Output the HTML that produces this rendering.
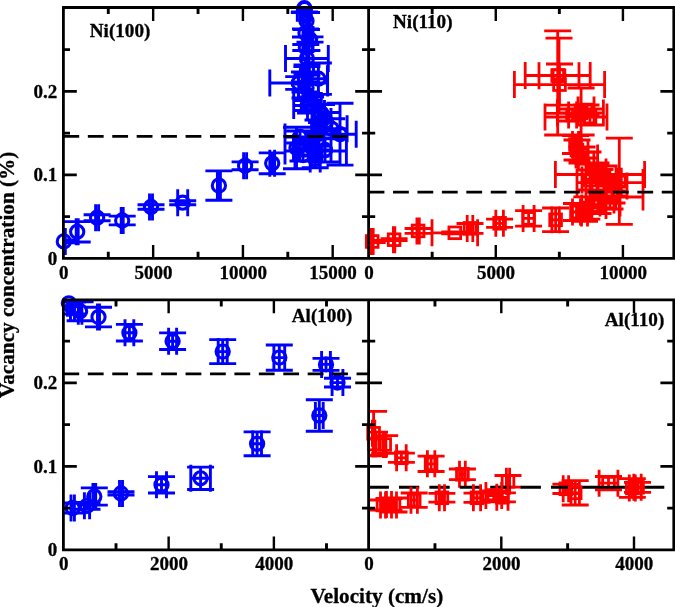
<!DOCTYPE html>
<html><head><meta charset="utf-8"><title>Vacancy concentration vs velocity</title>
<style>html,body{margin:0;padding:0;background:#fff}body{width:675px;height:607px;overflow:hidden}</style></head>
<body>
<svg width="675" height="607" viewBox="0 0 675 607" style="display:block">
<rect x="0" y="0" width="675" height="607" fill="#fff"/>
<defs>
<clipPath id="c1"><rect x="63.4" y="7.5" width="305.20" height="250.90"/></clipPath>
<clipPath id="c2"><rect x="368.6" y="7.5" width="305.20" height="250.90"/></clipPath>
<clipPath id="c3"><rect x="63.4" y="299.8" width="305.20" height="250.10"/></clipPath>
<clipPath id="c4"><rect x="368.6" y="299.8" width="305.20" height="250.10"/></clipPath>
</defs>
<g fill="none" stroke="#0000ff" stroke-width="2.9">
<path clip-path="url(#c1)" d="M62.3 241.4H65.3M62.3 227.9V254.9M65.3 227.9V254.9M63.8 239.9V242.9M50.3 239.9H77.3M50.3 242.9H77.3M76.2 231.8H78.2M76.2 218.3V245.3M78.2 218.3V245.3M77.2 221.6V242.0M63.7 221.6H90.7M63.7 242.0H90.7M95.6 217.7H98.6M95.6 204.2V231.2M98.6 204.2V231.2M97.1 214.7V220.7M83.6 214.7H110.6M83.6 220.7H110.6M121.2 220.5H123.2M121.2 207.0V234.0M123.2 207.0V234.0M122.2 216.1V224.9M108.7 216.1H135.7M108.7 224.9H135.7M149.5 207.0H152.5M149.5 193.5V220.5M152.5 193.5V220.5M151.0 204.8V209.2M137.5 204.8H164.5M137.5 209.2H164.5M177.7 202.7H187.7M177.7 189.2V216.2M187.7 189.2V216.2M182.7 200.7V204.7M169.2 200.7H196.2M169.2 204.7H196.2M217.4 185.6H220.4M217.4 172.1V199.1M220.4 172.1V199.1M218.9 170.9V200.3M205.4 170.9H232.4M205.4 200.3H232.4M243.6 165.8H246.6M243.6 152.3V179.3M246.6 152.3V179.3M245.1 161.9V169.7M231.6 161.9H258.6M231.6 169.7H258.6M269.8 163.3H274.6M269.8 149.8V176.8M274.6 149.8V176.8M272.2 152.9V173.7M258.7 152.9H285.7M258.7 173.7H285.7M297.3 8.2H311.3M297.3 -5.3V21.7M311.3 -5.3V21.7M304.3 3.8V12.6M290.8 3.8H317.8M290.8 12.6H317.8M300.3 9.0H308.7M300.3 -4.5V22.5M308.7 -4.5V22.5M304.5 6.0V12.0M291.0 6.0H318.0M291.0 12.0H318.0M303.5 21.0H309.5M303.5 7.5V34.5M309.5 7.5V34.5M306.5 12.5V29.5M293.0 12.5H320.0M293.0 29.5H320.0M303.0 33.0H308.0M303.0 19.5V46.5M308.0 19.5V46.5M305.5 29.0V37.0M292.0 29.0H319.0M292.0 37.0H319.0M307.0 39.5H313.0M307.0 26.0V53.0M313.0 26.0V53.0M310.0 36.9V42.1M296.5 36.9H323.5M296.5 42.1H323.5M302.8 47.5H308.8M302.8 34.0V61.0M308.8 34.0V61.0M305.8 44.5V50.5M292.3 44.5H319.3M292.3 50.5H319.3M285.5 58.5H328.3M285.5 45.0V72.0M328.3 45.0V72.0M306.9 50.5V66.5M293.4 50.5H320.4M293.4 66.5H320.4M269.8 83.0H327.6M269.8 69.5V96.5M327.6 69.5V96.5M298.7 76.6V89.4M285.2 76.6H312.2M285.2 89.4H312.2M309.4 78.7H327.4M309.4 65.2V92.2M327.4 65.2V92.2M318.4 63.0V94.4M304.9 63.0H331.9M304.9 94.4H331.9M305.0 70.0H309.0M305.0 56.5V83.5M309.0 56.5V83.5M307.0 65.0V75.0M293.5 65.0H320.5M293.5 75.0H320.5M302.3 77.0H306.7M302.3 63.5V90.5M306.7 63.5V90.5M304.5 72.0V82.0M291.0 72.0H318.0M291.0 82.0H318.0M303.9 88.0H309.1M303.9 74.5V101.5M309.1 74.5V101.5M306.5 84.0V92.0M293.0 84.0H320.0M293.0 92.0H320.0M303.0 95.0H307.0M303.0 81.5V108.5M307.0 81.5V108.5M305.0 92.0V98.0M291.5 92.0H318.5M291.5 98.0H318.5M307.5 105.0H313.5M307.5 91.5V118.5M313.5 91.5V118.5M310.5 97.0V113.0M297.0 97.0H324.0M297.0 113.0H324.0M293.7 105.5H321.3M293.7 92.0V119.0M321.3 92.0V119.0M307.5 100.5V110.5M294.0 100.5H321.0M294.0 110.5H321.0M318.5 113.5H324.5M318.5 100.0V127.0M324.5 100.0V127.0M321.5 104.5V122.5M308.0 104.5H335.0M308.0 122.5H335.0M321.0 121.5H331.0M321.0 108.0V135.0M331.0 108.0V135.0M326.0 112.5V130.5M312.5 112.5H339.5M312.5 130.5H339.5M312.0 127.0H324.0M312.0 113.5V140.5M324.0 113.5V140.5M318.0 120.0V134.0M304.5 120.0H331.5M304.5 134.0H331.5M323.8 134.2H356.2M323.8 120.7V147.7M356.2 120.7V147.7M340.0 103.3V165.1M326.5 103.3H353.5M326.5 165.1H353.5M316.3 128.8H347.1M316.3 115.3V142.3M347.1 115.3V142.3M331.7 118.8V138.8M318.2 118.8H345.2M318.2 138.8H345.2M293.5 148.0H299.5M293.5 134.5V161.5M299.5 134.5V161.5M296.5 127.2V168.8M283.0 127.2H310.0M283.0 168.8H310.0M285.0 137.0H315.0M285.0 123.5V150.5M315.0 123.5V150.5M300.0 131.0V143.0M286.5 131.0H313.5M286.5 143.0H313.5M285.0 151.0H346.4M285.0 137.5V164.5M346.4 137.5V164.5M315.7 146.0V156.0M302.2 146.0H329.2M302.2 156.0H329.2M308.5 148.0H316.5M308.5 134.5V161.5M316.5 134.5V161.5M312.5 140.0V156.0M299.0 140.0H326.0M299.0 156.0H326.0M310.2 159.0H320.2M310.2 145.5V172.5M320.2 145.5V172.5M315.2 150.2V167.8M301.7 150.2H328.7M301.7 167.8H328.7M295.0 155.0H311.0M295.0 141.5V168.5M311.0 141.5V168.5M303.0 149.0V161.0M289.5 149.0H316.5M289.5 161.0H316.5M319.0 150.0H331.0M319.0 136.5V163.5M331.0 136.5V163.5M325.0 138.0V162.0M311.5 138.0H338.5M311.5 162.0H338.5"/>
<g stroke-width="3.1"><circle cx="63.8" cy="241.4" r="6.6"/><circle cx="77.2" cy="231.8" r="6.6"/><circle cx="97.1" cy="217.7" r="6.6"/><circle cx="122.2" cy="220.5" r="6.6"/><circle cx="151.0" cy="207.0" r="6.6"/><circle cx="182.7" cy="202.7" r="6.6"/><circle cx="218.9" cy="185.6" r="6.6"/><circle cx="245.1" cy="165.8" r="6.6"/><circle cx="272.2" cy="163.3" r="6.6"/><circle cx="304.3" cy="8.2" r="6.6"/><circle cx="304.5" cy="9.0" r="6.6"/><circle cx="306.5" cy="21.0" r="6.6"/><circle cx="305.5" cy="33.0" r="6.6"/><circle cx="310.0" cy="39.5" r="6.6"/><circle cx="305.8" cy="47.5" r="6.6"/><circle cx="306.9" cy="58.5" r="6.6"/><circle cx="298.7" cy="83.0" r="6.6"/><circle cx="318.4" cy="78.7" r="6.6"/><circle cx="307.0" cy="70.0" r="6.6"/><circle cx="304.5" cy="77.0" r="6.6"/><circle cx="306.5" cy="88.0" r="6.6"/><circle cx="305.0" cy="95.0" r="6.6"/><circle cx="310.5" cy="105.0" r="6.6"/><circle cx="307.5" cy="105.5" r="6.6"/><circle cx="321.5" cy="113.5" r="6.6"/><circle cx="326.0" cy="121.5" r="6.6"/><circle cx="318.0" cy="127.0" r="6.6"/><circle cx="340.0" cy="134.2" r="6.6"/><circle cx="331.7" cy="128.8" r="6.6"/><circle cx="296.5" cy="148.0" r="6.6"/><circle cx="300.0" cy="137.0" r="6.6"/><circle cx="315.7" cy="151.0" r="6.6"/><circle cx="312.5" cy="148.0" r="6.6"/><circle cx="315.2" cy="159.0" r="6.6"/><circle cx="303.0" cy="155.0" r="6.6"/><circle cx="325.0" cy="150.0" r="6.6"/></g>
</g>
<g fill="none" stroke="#ff0000" stroke-width="2.8">
<path clip-path="url(#c2)" d="M371.2 241.5H373.2M371.2 228.0V255.0M373.2 228.0V255.0M372.2 240.5V242.5M358.7 240.5H385.7M358.7 242.5H385.7M393.4 239.7H394.8M393.4 226.2V253.2M394.8 226.2V253.2M394.1 238.7V240.7M380.6 238.7H407.6M380.6 240.7H407.6M416.9 230.9H419.3M416.9 217.4V244.4M419.3 217.4V244.4M418.1 228.5V233.3M404.6 228.5H431.6M404.6 233.3H431.6M432.0 232.8H477.6M432.0 219.3V246.3M477.6 219.3V246.3M454.8 231.8V233.9M441.3 231.8H468.3M441.3 233.9H468.3M467.2 228.4H472.8M467.2 214.9V241.9M472.8 214.9V241.9M470.0 223.5V233.3M456.5 223.5H483.5M456.5 233.3H483.5M495.8 223.3H503.4M495.8 209.8V236.8M503.4 209.8V236.8M499.6 219.2V227.4M486.1 219.2H513.1M486.1 227.4H513.1M523.1 218.4H534.1M523.1 204.9V231.9M534.1 204.9V231.9M528.6 210.7V226.1M515.1 210.7H542.1M515.1 226.1H542.1M551.9 219.8H559.3M551.9 206.3V233.3M559.3 206.3V233.3M555.6 208.0V231.6M542.1 208.0H569.1M542.1 231.6H569.1M525.2 75.5H590.2M525.2 62.0V89.0M590.2 62.0V89.0M557.7 30.9V135.0M544.2 30.9H571.2M544.2 135.0H571.2M539.0 75.7H579.0M539.0 62.2V89.2M579.0 62.2V89.2M559.0 38.1V113.3M545.5 38.1H572.5M545.5 113.3H572.5M514.4 84.6H604.6M514.4 71.1V98.1M604.6 71.1V98.1M559.5 64.0V105.2M546.0 64.0H573.0M546.0 105.2H573.0M557.4 113.0H603.4M557.4 99.5V126.5M603.4 99.5V126.5M581.1 88.0V135.0M567.6 88.0H594.6M567.6 135.0H594.6M545.0 117.0H607.0M545.0 103.5V130.5M607.0 103.5V130.5M590.0 109.0V125.0M576.5 109.0H603.5M576.5 125.0H603.5M578.0 110.0H594.0M578.0 96.5V123.5M594.0 96.5V123.5M586.0 105.0V115.0M572.5 105.0H599.5M572.5 115.0H599.5M568.6 115.0H576.6M568.6 101.5V128.5M576.6 101.5V128.5M572.6 109.0V121.0M559.1 109.0H586.1M559.1 121.0H586.1M572.5 144.5H578.5M572.5 131.0V158.0M578.5 131.0V158.0M575.5 135.5V153.5M562.0 135.5H589.0M562.0 153.5H589.0M573.0 150.0H581.0M573.0 136.5V163.5M581.0 136.5V163.5M577.0 140.0V160.0M563.5 140.0H590.5M563.5 160.0H590.5M576.0 155.0H588.0M576.0 141.5V168.5M588.0 141.5V168.5M582.0 147.0V163.0M568.5 147.0H595.5M568.5 163.0H595.5M578.4 158.0H597.6M578.4 144.5V171.5M597.6 144.5V171.5M588.0 152.0V164.0M574.5 152.0H601.5M574.5 164.0H601.5M617.3 181.2H621.3M617.3 167.7V194.7M621.3 167.7V194.7M619.3 138.1V224.3M605.8 138.1H632.8M605.8 224.3H632.8M555.4 174.5H644.6M555.4 161.0V188.0M644.6 161.0V188.0M600.0 169.5V179.5M586.5 169.5H613.5M586.5 179.5H613.5M577.0 182.6H643.0M577.0 169.1V196.1M643.0 169.1V196.1M610.0 174.6V190.6M596.5 174.6H623.5M596.5 190.6H623.5M592.0 197.0H643.0M592.0 183.5V210.5M643.0 183.5V210.5M612.0 191.0V203.0M598.5 191.0H625.5M598.5 203.0H625.5M586.0 172.0H606.0M586.0 158.5V185.5M606.0 158.5V185.5M596.0 163.0V181.0M582.5 163.0H609.5M582.5 181.0H609.5M582.0 180.0H598.0M582.0 166.5V193.5M598.0 166.5V193.5M590.0 170.0V190.0M576.5 170.0H603.5M576.5 190.0H603.5M592.0 178.0H616.0M592.0 164.5V191.5M616.0 164.5V191.5M604.0 166.0V190.0M590.5 166.0H617.5M590.5 190.0H617.5M597.0 186.0H627.0M597.0 172.5V199.5M627.0 172.5V199.5M612.0 176.0V196.0M598.5 176.0H625.5M598.5 196.0H625.5M586.0 200.0H614.0M586.0 186.5V213.5M614.0 186.5V213.5M600.0 192.0V208.0M586.5 192.0H613.5M586.5 208.0H613.5M572.5 212.0H580.5M572.5 198.5V225.5M580.5 198.5V225.5M576.5 203.5V220.5M563.0 203.5H590.0M563.0 220.5H590.0M581.8 208.0H591.8M581.8 194.5V221.5M591.8 194.5V221.5M586.8 196.9V219.1M573.3 196.9H600.3M573.3 219.1H600.3M581.5 213.0H587.5M581.5 199.5V226.5M587.5 199.5V226.5M584.5 204.7V221.3M571.0 204.7H598.0M571.0 221.3H598.0M590.0 205.5H606.0M590.0 192.0V219.0M606.0 192.0V219.0M598.0 197.5V213.5M584.5 197.5H611.5M584.5 213.5H611.5M600.0 203.0H620.0M600.0 189.5V216.5M620.0 189.5V216.5M610.0 197.0V209.0M596.5 197.0H623.5M596.5 209.0H623.5"/>
<g stroke-width="2.8"><rect x="366.35" y="235.65" width="11.70" height="11.70"/><rect x="388.25" y="233.85" width="11.70" height="11.70"/><rect x="412.25" y="225.05" width="11.70" height="11.70"/><rect x="448.95" y="226.95" width="11.70" height="11.70"/><rect x="464.15" y="222.55" width="11.70" height="11.70"/><rect x="493.75" y="217.45" width="11.70" height="11.70"/><rect x="522.75" y="212.55" width="11.70" height="11.70"/><rect x="549.75" y="213.95" width="11.70" height="11.70"/><rect x="551.85" y="69.65" width="11.70" height="11.70"/><rect x="553.15" y="69.85" width="11.70" height="11.70"/><rect x="553.65" y="78.75" width="11.70" height="11.70"/><rect x="575.25" y="107.15" width="11.70" height="11.70"/><rect x="584.15" y="111.15" width="11.70" height="11.70"/><rect x="580.15" y="104.15" width="11.70" height="11.70"/><rect x="566.75" y="109.15" width="11.70" height="11.70"/><rect x="569.65" y="138.65" width="11.70" height="11.70"/><rect x="571.15" y="144.15" width="11.70" height="11.70"/><rect x="576.15" y="149.15" width="11.70" height="11.70"/><rect x="582.15" y="152.15" width="11.70" height="11.70"/><rect x="613.45" y="175.35" width="11.70" height="11.70"/><rect x="594.15" y="168.65" width="11.70" height="11.70"/><rect x="604.15" y="176.75" width="11.70" height="11.70"/><rect x="606.15" y="191.15" width="11.70" height="11.70"/><rect x="590.15" y="166.15" width="11.70" height="11.70"/><rect x="584.15" y="174.15" width="11.70" height="11.70"/><rect x="598.15" y="172.15" width="11.70" height="11.70"/><rect x="606.15" y="180.15" width="11.70" height="11.70"/><rect x="594.15" y="194.15" width="11.70" height="11.70"/><rect x="570.65" y="206.15" width="11.70" height="11.70"/><rect x="580.95" y="202.15" width="11.70" height="11.70"/><rect x="578.65" y="207.15" width="11.70" height="11.70"/><rect x="592.15" y="199.65" width="11.70" height="11.70"/><rect x="604.15" y="197.15" width="11.70" height="11.70"/></g>
</g>
<g fill="none" stroke="#0000ff" stroke-width="2.9">
<path clip-path="url(#c3)" d="M67.4 303.3H70.4M67.4 289.8V316.8M70.4 289.8V316.8M68.9 300.3V306.3M55.4 300.3H82.4M55.4 306.3H82.4M70.5 308.0H74.5M70.5 294.5V321.5M74.5 294.5V321.5M72.5 302.0V314.0M59.0 302.0H86.0M59.0 314.0H86.0M78.3 311.3H81.9M78.3 297.8V324.8M81.9 297.8V324.8M80.1 301.8V320.8M66.6 301.8H93.6M66.6 320.8H93.6M97.5 317.1H99.5M97.5 303.6V330.6M99.5 303.6V330.6M98.5 307.3V326.9M85.0 307.3H112.0M85.0 326.9H112.0M125.0 332.7H133.8M125.0 319.2V346.2M133.8 319.2V346.2M129.4 324.4V341.0M115.9 324.4H142.9M115.9 341.0H142.9M168.6 341.2H176.6M168.6 327.7V354.7M176.6 327.7V354.7M172.6 332.9V349.5M159.1 332.9H186.1M159.1 349.5H186.1M218.2 351.6H227.2M218.2 338.1V365.1M227.2 338.1V365.1M222.7 339.6V363.6M209.2 339.6H236.2M209.2 363.6H236.2M273.9 357.6H284.7M273.9 344.1V371.1M284.7 344.1V371.1M279.3 345.0V370.2M265.8 345.0H292.8M265.8 370.2H292.8M321.6 364.4H330.4M321.6 350.9V377.9M330.4 350.9V377.9M326.0 358.4V370.4M312.5 358.4H339.5M312.5 370.4H339.5M332.1 382.6H342.9M332.1 369.1V396.1M342.9 369.1V396.1M337.5 378.2V387.0M324.0 378.2H351.0M324.0 387.0H351.0M71.0 508.0H74.4M71.0 494.5V521.5M74.4 494.5V521.5M72.7 503.0V513.0M59.2 503.0H86.2M59.2 513.0H86.2M84.4 505.8H89.6M84.4 492.3V519.3M89.6 492.3V519.3M87.0 502.4V509.2M73.5 502.4H100.5M73.5 509.2H100.5M92.9 496.5H95.7M92.9 483.0V510.0M95.7 483.0V510.0M94.3 487.9V505.1M80.8 487.9H107.8M80.8 505.1H107.8M119.5 493.4H122.5M119.5 479.9V506.9M122.5 479.9V506.9M121.0 491.8V495.0M107.5 491.8H134.5M107.5 495.0H134.5M156.5 484.8H166.5M156.5 471.3V498.3M166.5 471.3V498.3M161.5 476.6V493.0M148.0 476.6H175.0M148.0 493.0H175.0M190.8 478.3H210.4M190.8 464.8V491.8M210.4 464.8V491.8M200.6 467.1V489.5M187.1 467.1H214.1M187.1 489.5H214.1M252.7 443.8H261.5M252.7 430.3V457.3M261.5 430.3V457.3M257.1 431.9V455.7M243.6 431.9H270.6M243.6 455.7H270.6M315.4 415.5H323.2M315.4 402.0V429.0M323.2 402.0V429.0M319.3 399.7V431.3M305.8 399.7H332.8M305.8 431.3H332.8"/>
<g stroke-width="3.1"><circle cx="68.9" cy="303.3" r="6.6"/><circle cx="72.5" cy="308.0" r="6.6"/><circle cx="80.1" cy="311.3" r="6.6"/><circle cx="98.5" cy="317.1" r="6.6"/><circle cx="129.4" cy="332.7" r="6.6"/><circle cx="172.6" cy="341.2" r="6.6"/><circle cx="222.7" cy="351.6" r="6.6"/><circle cx="279.3" cy="357.6" r="6.6"/><circle cx="326.0" cy="364.4" r="6.6"/><circle cx="337.5" cy="382.6" r="6.6"/><circle cx="72.7" cy="508.0" r="6.6"/><circle cx="87.0" cy="505.8" r="6.6"/><circle cx="94.3" cy="496.5" r="6.6"/><circle cx="121.0" cy="493.4" r="6.6"/><circle cx="161.5" cy="484.8" r="6.6"/><circle cx="200.6" cy="478.3" r="6.6"/><circle cx="257.1" cy="443.8" r="6.6"/><circle cx="319.3" cy="415.5" r="6.6"/></g>
</g>
<g fill="none" stroke="#ff0000" stroke-width="2.8">
<path clip-path="url(#c4)" d="M372.4 433.3H374.8M372.4 419.8V446.8M374.8 419.8V446.8M373.6 411.4V455.2M360.1 411.4H387.1M360.1 455.2H387.1M373.2 444.0H375.8M373.2 430.5V457.5M375.8 430.5V457.5M374.5 432.2V455.8M361.0 432.2H388.0M361.0 455.8H388.0M383.4 444.5H385.9M383.4 431.0V458.0M385.9 431.0V458.0M384.7 435.6V453.4M371.2 435.6H398.2M371.2 453.4H398.2M396.6 457.8H406.2M396.6 444.3V471.3M406.2 444.3V471.3M401.4 453.2V462.4M387.9 453.2H414.9M387.9 462.4H414.9M427.4 463.8H434.8M427.4 450.3V477.3M434.8 450.3V477.3M431.1 456.1V471.5M417.6 456.1H444.6M417.6 471.5H444.6M459.5 474.3H465.3M459.5 460.8V487.8M465.3 460.8V487.8M462.4 469.0V479.6M448.9 469.0H475.9M448.9 479.6H475.9M506.4 481.3H509.6M506.4 467.8V494.8M509.6 467.8V494.8M508.0 475.5V487.1M494.5 475.5H521.5M494.5 487.1H521.5M563.2 488.8H568.6M563.2 475.3V502.3M568.6 475.3V502.3M565.9 484.1V493.5M552.4 484.1H579.4M552.4 493.5H579.4M599.1 483.2H617.9M599.1 469.7V496.7M617.9 469.7V496.7M608.5 476.5V489.9M595.0 476.5H622.0M595.0 489.9H622.0"/>
<g stroke-width="2.8"><rect x="367.75" y="427.45" width="11.70" height="11.70"/><rect x="368.65" y="438.15" width="11.70" height="11.70"/><rect x="378.85" y="438.65" width="11.70" height="11.70"/><rect x="395.55" y="451.95" width="11.70" height="11.70"/><rect x="425.25" y="457.95" width="11.70" height="11.70"/><rect x="456.55" y="468.45" width="11.70" height="11.70"/><rect x="502.15" y="475.45" width="11.70" height="11.70"/><rect x="560.05" y="482.95" width="11.70" height="11.70"/><rect x="602.65" y="477.35" width="11.70" height="11.70"/></g>
</g>
<line x1="368.60" y1="487.20" x2="551.00" y2="487.20" stroke="#000" stroke-width="2.9" stroke-dasharray="20.3 10.1"/>
<line x1="551.00" y1="487.20" x2="664.30" y2="487.20" stroke="#000" stroke-width="2.9" />
<g fill="none" stroke="#ff0000" stroke-width="2.8">
<path clip-path="url(#c4)" d="M380.5 505.0H385.5M380.5 491.5V518.5M385.5 491.5V518.5M383.0 500.0V510.0M369.5 500.0H396.5M369.5 510.0H396.5M386.5 504.5H391.5M386.5 491.0V518.0M391.5 491.0V518.0M389.0 498.5V510.5M375.5 498.5H402.5M375.5 510.5H402.5M391.5 505.0H396.5M391.5 491.5V518.5M396.5 491.5V518.5M394.0 498.0V512.0M380.5 498.0H407.5M380.5 512.0H407.5M411.0 500.2H417.4M411.0 486.7V513.7M417.4 486.7V513.7M414.2 493.0V507.4M400.7 493.0H427.7M400.7 507.4H427.7M439.3 497.8H444.5M439.3 484.3V511.3M444.5 484.3V511.3M441.9 493.4V502.2M428.4 493.4H455.4M428.4 502.2H455.4M473.4 497.8H480.6M473.4 484.3V511.3M480.6 484.3V511.3M477.0 493.2V502.4M463.5 493.2H490.5M463.5 502.4H490.5M485.9 495.5H501.7M485.9 482.0V509.0M501.7 482.0V509.0M493.8 491.0V500.0M480.3 491.0H507.3M480.3 500.0H507.3M496.8 497.3H508.0M496.8 483.8V510.8M508.0 483.8V510.8M502.4 492.8V501.8M488.9 492.8H515.9M488.9 501.8H515.9M571.0 492.8H579.4M571.0 479.3V506.3M579.4 479.3V506.3M575.2 480.6V505.0M561.7 480.6H588.7M561.7 505.0H588.7M629.3 488.0H635.3M629.3 474.5V501.5M635.3 474.5V501.5M632.3 478.7V497.3M618.8 478.7H645.8M618.8 497.3H645.8M633.8 487.3H641.2M633.8 473.8V500.8M641.2 473.8V500.8M637.5 482.3V492.3M624.0 482.3H651.0M624.0 492.3H651.0"/>
<g stroke-width="2.8"><rect x="377.15" y="499.15" width="11.70" height="11.70"/><rect x="383.15" y="498.65" width="11.70" height="11.70"/><rect x="388.15" y="499.15" width="11.70" height="11.70"/><rect x="408.35" y="494.35" width="11.70" height="11.70"/><rect x="436.05" y="491.95" width="11.70" height="11.70"/><rect x="471.15" y="491.95" width="11.70" height="11.70"/><rect x="487.95" y="489.65" width="11.70" height="11.70"/><rect x="496.55" y="491.45" width="11.70" height="11.70"/><rect x="569.35" y="486.95" width="11.70" height="11.70"/><rect x="626.45" y="482.15" width="11.70" height="11.70"/><rect x="631.65" y="481.45" width="11.70" height="11.70"/></g>
</g>
<line x1="63.40" y1="136.40" x2="347.50" y2="136.40" stroke="#000" stroke-width="2.9" stroke-dasharray="15.8 8.63"/>
<line x1="368.60" y1="192.10" x2="673.80" y2="192.10" stroke="#000" stroke-width="2.9" stroke-dasharray="15.8 8.63"/>
<line x1="63.40" y1="373.90" x2="368.60" y2="373.90" stroke="#000" stroke-width="2.9" stroke-dasharray="15.8 8.63"/>
<path d="M63.4 7.5H673.8M63.4 258.4H673.8M63.4 6.1V259.79999999999995M368.6 7.5V258.4M673.8 6.1V259.79999999999995" stroke="#000" stroke-width="2.8" fill="none"/>
<path d="M63.4 299.8H673.8M63.4 549.9H673.8M63.4 298.40000000000003V551.3M368.6 299.8V549.9M673.8 298.40000000000003V551.3" stroke="#000" stroke-width="2.8" fill="none"/>
<path d="M153.16 258.4V245.00M153.16 7.5V20.90M242.93 258.4V245.00M242.93 7.5V20.90M332.69 258.4V245.00M332.69 7.5V20.90" stroke="#000" stroke-width="2.4" fill="none"/>
<path d="M108.28 258.4V251.80M108.28 7.5V14.10M198.05 258.4V251.80M198.05 7.5V14.10M287.81 258.4V251.80M287.81 7.5V14.10" stroke="#000" stroke-width="2.9" fill="none"/>
<path d="M495.77 258.4V245.00M495.77 7.5V20.90M622.93 258.4V245.00M622.93 7.5V20.90" stroke="#000" stroke-width="2.4" fill="none"/>
<path d="M432.18 258.4V251.80M432.18 7.5V14.10M559.35 258.4V251.80M559.35 7.5V14.10" stroke="#000" stroke-width="2.9" fill="none"/>
<path d="M168.64 549.9V536.50M168.64 299.8V313.20M273.88 549.9V536.50M273.88 299.8V313.20" stroke="#000" stroke-width="2.4" fill="none"/>
<path d="M116.02 549.9V543.30M116.02 299.8V306.40M221.26 549.9V543.30M221.26 299.8V306.40M326.50 549.9V543.30M326.50 299.8V306.40" stroke="#000" stroke-width="2.9" fill="none"/>
<path d="M501.30 549.9V536.50M501.30 299.8V313.20M633.99 549.9V536.50M633.99 299.8V313.20" stroke="#000" stroke-width="2.4" fill="none"/>
<path d="M434.95 549.9V543.30M434.95 299.8V306.40M567.64 549.9V543.30M567.64 299.8V306.40" stroke="#000" stroke-width="2.9" fill="none"/>
<path d="M63.4 216.65H70.00M368.6 216.65H375.20M368.6 216.65H362.00M673.8 216.65H667.20M63.4 174.90H76.80M368.6 174.90H382.00M368.6 174.90H355.20M673.8 174.90H660.40M63.4 133.15H70.00M368.6 133.15H375.20M368.6 133.15H362.00M673.8 133.15H667.20M63.4 91.40H76.80M368.6 91.40H382.00M368.6 91.40H355.20M673.8 91.40H660.40M63.4 49.65H70.00M368.6 49.65H375.20M368.6 49.65H362.00M673.8 49.65H667.20" stroke="#000" stroke-width="2.8" fill="none"/>
<path d="M63.4 508.15H70.00M368.6 508.15H375.20M368.6 508.15H362.00M673.8 508.15H667.20M63.4 466.40H76.80M368.6 466.40H382.00M368.6 466.40H355.20M673.8 466.40H660.40M63.4 424.65H70.00M368.6 424.65H375.20M368.6 424.65H362.00M673.8 424.65H667.20M63.4 382.90H76.80M368.6 382.90H382.00M368.6 382.90H355.20M673.8 382.90H660.40M63.4 341.15H70.00M368.6 341.15H375.20M368.6 341.15H362.00M673.8 341.15H667.20" stroke="#000" stroke-width="2.8" fill="none"/>
<g font-family="'Liberation Serif', 'Times New Roman', serif" font-weight="bold" fill="#000" stroke="#000" stroke-width="0.3">
<text transform="translate(63.70 278.80) scale(1.04 1)" font-size="18.3" text-anchor="middle">0</text>
<text transform="translate(153.46 278.80) scale(1.04 1)" font-size="18.3" text-anchor="middle">5000</text>
<text transform="translate(243.23 278.80) scale(1.04 1)" font-size="18.3" text-anchor="middle">10000</text>
<text transform="translate(332.99 278.80) scale(1.04 1)" font-size="18.3" text-anchor="middle">15000</text>
<text transform="translate(368.90 278.80) scale(1.04 1)" font-size="18.3" text-anchor="middle">0</text>
<text transform="translate(496.07 278.80) scale(1.04 1)" font-size="18.3" text-anchor="middle">5000</text>
<text transform="translate(623.23 278.80) scale(1.04 1)" font-size="18.3" text-anchor="middle">10000</text>
<text transform="translate(63.70 570.00) scale(1.04 1)" font-size="18.3" text-anchor="middle">0</text>
<text transform="translate(168.94 570.00) scale(1.04 1)" font-size="18.3" text-anchor="middle">2000</text>
<text transform="translate(274.18 570.00) scale(1.04 1)" font-size="18.3" text-anchor="middle">4000</text>
<text transform="translate(368.90 570.00) scale(1.04 1)" font-size="18.3" text-anchor="middle">0</text>
<text transform="translate(501.60 570.00) scale(1.04 1)" font-size="18.3" text-anchor="middle">2000</text>
<text transform="translate(634.29 570.00) scale(1.04 1)" font-size="18.3" text-anchor="middle">4000</text>
<text transform="translate(57.30 264.70) scale(1.04 1)" font-size="18.3" text-anchor="end">0</text>
<text transform="translate(57.30 181.20) scale(1.04 1)" font-size="18.3" text-anchor="end">0.1</text>
<text transform="translate(57.30 97.70) scale(1.04 1)" font-size="18.3" text-anchor="end">0.2</text>
<text transform="translate(57.30 556.20) scale(1.04 1)" font-size="18.3" text-anchor="end">0</text>
<text transform="translate(57.30 472.70) scale(1.04 1)" font-size="18.3" text-anchor="end">0.1</text>
<text transform="translate(57.30 389.20) scale(1.04 1)" font-size="18.3" text-anchor="end">0.2</text>
<text transform="translate(89.80 36.90) scale(1.04 1)" font-size="18.4" text-anchor="start">Ni(100)</text>
<text transform="translate(393.00 28.10) scale(1.04 1)" font-size="18.4" text-anchor="start">Ni(110)</text>
<text transform="translate(291.80 321.90) scale(1.04 1)" font-size="18.4" text-anchor="start">Al(100)</text>
<text transform="translate(604.80 326.30) scale(1.04 1)" font-size="18.4" text-anchor="start">Al(110)</text>
<text transform="translate(376.80 602.70) scale(1.0 1)" font-size="21.2" text-anchor="middle">Velocity (cm/s)</text>
<text transform="translate(13.6 274.9) rotate(-90)" font-size="21.2" text-anchor="middle">Vacancy concentration (%)</text>
</g>
</svg>
</body></html>
